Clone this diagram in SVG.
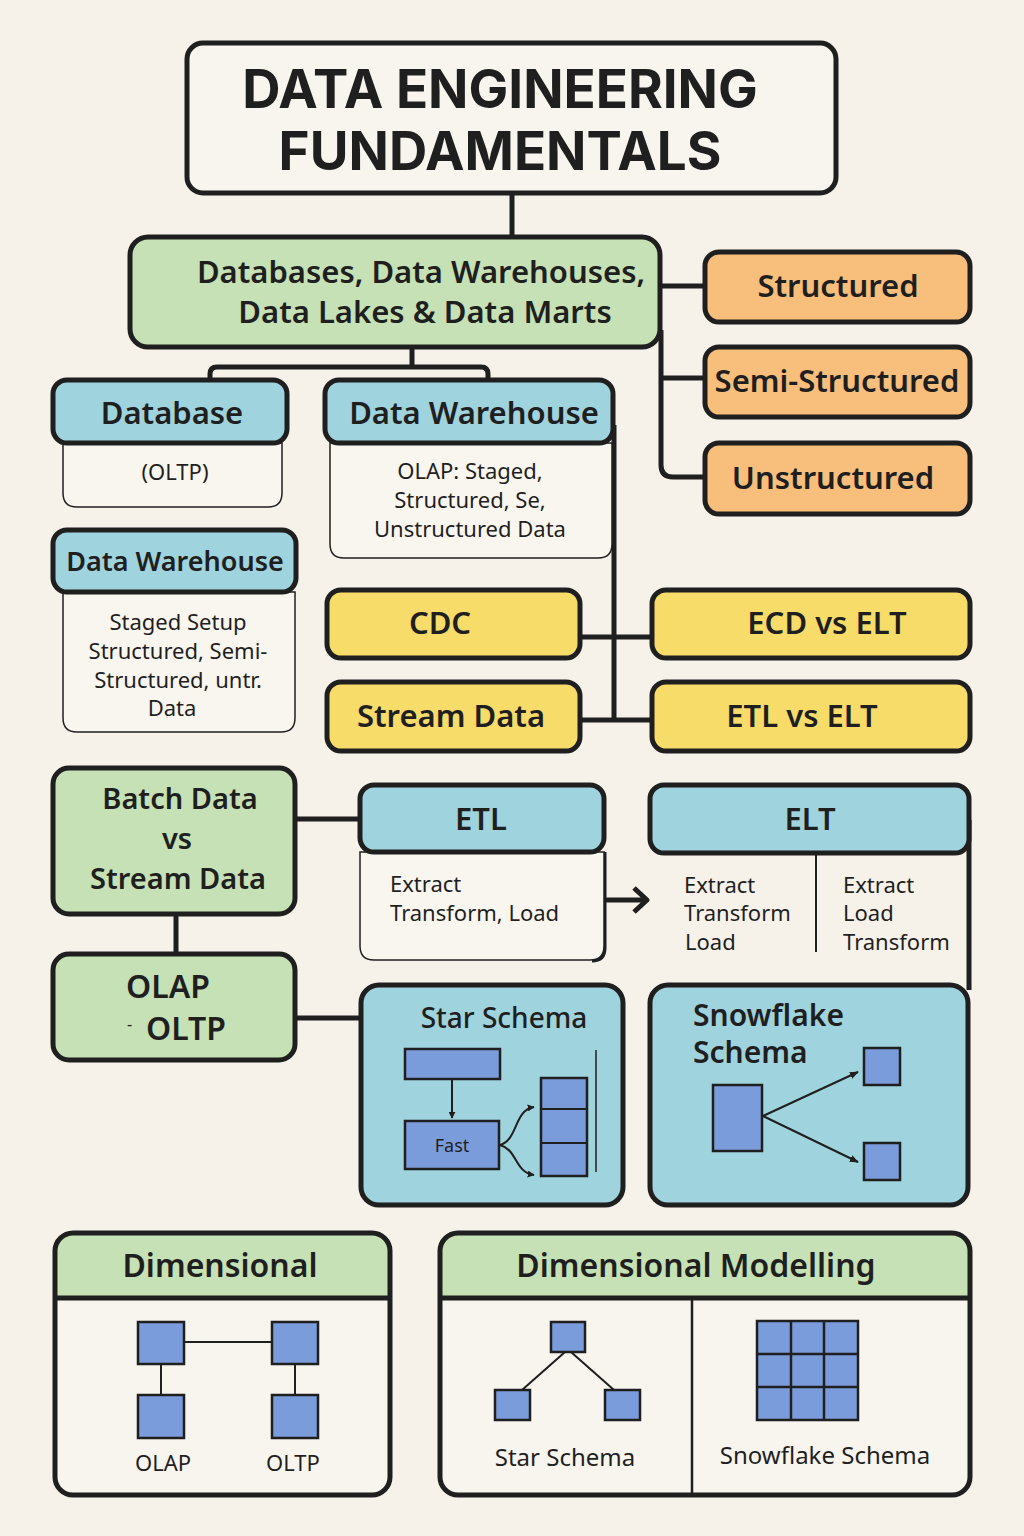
<svg xmlns="http://www.w3.org/2000/svg" width="1024" height="1536" viewBox="0 0 1024 1536">
<defs>
<style>
.bg{fill:#f6f2ea}
.k{stroke:#1f1f1f;stroke-width:5;fill:none;stroke-linejoin:round}
.n{stroke:#1f1f1f;stroke-width:5}
.g{fill:#c6e1b5}
.b{fill:#9fd3dd}
.o{fill:#f8be7b}
.y{fill:#f8dc6a}
.w{fill:#f9f6ef;stroke:#1f1f1f;stroke-width:1.5}
.sq{fill:#7b9cdb;stroke:#1f1f1f;stroke-width:2.5}
.thin{stroke:#1f1f1f;stroke-width:2;fill:none}
text{font-family:"Noto Sans","Open Sans","Liberation Sans",sans-serif;fill:#1f1f1f}
.h{font-size:31px;font-weight:600;text-anchor:middle}
.m{font-size:22px;text-anchor:middle}
.s{font-size:22px}
.t{font-family:Inter,"Liberation Sans",sans-serif;font-size:53px;font-weight:700;text-anchor:middle}
</style>
<marker id="ah" viewBox="0 0 10 10" refX="9" refY="5" markerWidth="7" markerHeight="7" orient="auto" markerUnits="userSpaceOnUse">
<path d="M0,0 L10,5 L0,10 z" fill="#1f1f1f"/>
</marker>
<marker id="ah2" viewBox="0 0 10 10" refX="9" refY="5" markerWidth="9" markerHeight="9" orient="auto" markerUnits="userSpaceOnUse">
<path d="M0,1 L10,5 L0,9 z" fill="#1f1f1f"/>
</marker>
</defs>
<rect class="bg" x="0" y="0" width="1024" height="1536"/>

<g id="connectors">
<path class="k" d="M512,193 V237"/>
<path class="k" d="M412,347 V367 M210,380 V374 Q210,367 217,367 H481 Q488,367 488,374 V380"/>
<path class="k" d="M660,286 H705 M661,330 V465 Q661,477 673,477 H705 M661,378 H705"/>
<path class="k" d="M614,425 V720 M580,637 H652 M580,720 H652"/>
<path class="k" d="M295,819 H360 M176,914 V954 M295,1018 H361"/>
<path class="k" d="M604,852 V948 Q604,960 592,960 M604,900 H646 M634,888 L647,900 L634,912"/>
<path class="k" d="M969,820 V990"/>
</g>

<g id="title">
<rect class="n" x="187" y="43" width="649" height="150" rx="16" fill="#f8f5ee"/>
<text class="t" x="500" y="108">DATA ENGINEERING</text>
<text class="t" x="500" y="170">FUNDAMENTALS</text>
</g>

<g id="storage">
<rect class="n g" x="130" y="237" width="530" height="110" rx="18"/>
<text class="h" x="421" y="283">Databases, Data Warehouses,</text>
<text class="h" x="425" y="323">Data Lakes &amp; Data Marts</text>
</g>

<g id="structured">
<rect class="n o" x="705" y="252" width="265" height="70" rx="14"/>
<text class="h" x="838" y="297">Structured</text>
</g>
<g id="semi-structured">
<rect class="n o" x="705" y="347" width="265" height="70" rx="14"/>
<text class="h" x="837" y="392">Semi-Structured</text>
</g>
<g id="unstructured">
<rect class="n o" x="705" y="443" width="265" height="71" rx="14"/>
<text class="h" x="833" y="489">Unstructured</text>
</g>

<g id="database">
<path class="w" d="M63,443 H282 V493 Q282,507 268,507 H77 Q63,507 63,493 Z"/>
<rect class="n b" x="53" y="380" width="234" height="63" rx="14"/>
<text class="h" x="172" y="424">Database</text>
<text class="m" x="175" y="480">(OLTP)</text>
</g>

<g id="data-warehouse">
<path class="w" d="M330,443 H612 V544 Q612,558 598,558 H344 Q330,558 330,544 Z"/>
<rect class="n b" x="325" y="380" width="288" height="63" rx="14"/>
<text class="h" x="474" y="424">Data Warehouse</text>
<text class="m" x="470" y="479">OLAP: Staged,</text>
<text class="m" x="470" y="508">Structured, Se,</text>
<text class="m" x="470" y="537">Unstructured Data</text>
</g>

<g id="data-warehouse-2">
<path class="w" d="M63,592 H295 V718 Q295,732 281,732 H77 Q63,732 63,718 Z"/>
<rect class="n b" x="53" y="530" width="243" height="62" rx="14"/>
<text class="h" x="175" y="571" style="font-size:27px">Data Warehouse</text>
<text class="m" x="178" y="630">Staged Setup</text>
<text class="m" x="178" y="659">Structured, Semi-</text>
<text class="m" x="178" y="688">Structured, untr.</text>
<text class="m" x="172" y="716">Data</text>
</g>

<g id="cdc">
<rect class="n y" x="327" y="590" width="253" height="68" rx="14"/>
<text class="h" x="440" y="634">CDC</text>
</g>
<g id="stream-data">
<rect class="n y" x="327" y="682" width="253" height="69" rx="14"/>
<text class="h" x="451" y="727">Stream Data</text>
</g>
<g id="ecd-vs-elt">
<rect class="n y" x="652" y="590" width="318" height="68" rx="14"/>
<text class="h" x="827" y="634">ECD vs ELT</text>
</g>
<g id="etl-vs-elt">
<rect class="n y" x="652" y="682" width="318" height="69" rx="14"/>
<text class="h" x="802" y="727">ETL vs ELT</text>
</g>

<g id="batch-vs-stream">
<rect class="n g" x="53" y="768" width="242" height="146" rx="16"/>
<text class="h" x="180" y="809" style="font-size:29px">Batch Data</text>
<text class="h" x="177" y="849" style="font-size:29px">vs</text>
<text class="h" x="178" y="889" style="font-size:29px">Stream Data</text>
</g>

<g id="olap-oltp">
<rect class="n g" x="53" y="954" width="242" height="106" rx="16"/>
<text class="h" x="168" y="998" style="font-size:32px">OLAP</text>
<text x="127" y="1030" style="font-size:16px">-</text>
<text class="h" x="186" y="1040" style="font-size:32px">OLTP</text>
</g>

<g id="etl">
<path class="w" d="M360,852 H604 V946 Q604,960 590,960 H374 Q360,960 360,946 Z"/>
<rect class="n b" x="360" y="785" width="244" height="67" rx="14"/>
<text class="h" x="481" y="830">ETL</text>
<text class="s" x="390" y="892">Extract</text>
<text class="s" x="390" y="921">Transform, Load</text>
</g>

<g id="elt">
<rect class="n b" x="650" y="785" width="319" height="68" rx="14"/>
<text class="h" x="810" y="830">ELT</text>
<path class="thin" d="M816,853 V952"/>
<text class="s" x="684" y="893">Extract</text>
<text class="s" x="684" y="921">Transform</text>
<text class="s" x="685" y="950">Load</text>
<text class="s" x="843" y="893">Extract</text>
<text class="s" x="843" y="921">Load</text>
<text class="s" x="843" y="950">Transform</text>
</g>

<g id="star-schema">
<rect class="n b" x="361" y="985" width="262" height="220" rx="18"/>
<text x="504" y="1028" style="font-size:28px;text-anchor:middle;font-weight:500">Star Schema</text>
<rect class="sq" x="405" y="1049" width="95" height="30"/>
<path class="thin" d="M452,1079 V1118" marker-end="url(#ah)"/>
<rect class="sq" x="405" y="1121" width="94" height="48"/>
<text x="452" y="1152" style="font-size:18px;text-anchor:middle">Fast</text>
<rect class="sq" x="541" y="1078" width="46" height="98"/>
<path class="thin" d="M541,1109 H587 M541,1143 H587"/>
<path class="thin" d="M500,1145 C518,1140 514,1110 534,1107" marker-end="url(#ah)"/>
<path class="thin" d="M500,1145 C518,1150 514,1172 534,1175" marker-end="url(#ah)"/>
<path d="M596,1050 V1172" stroke="#1f1f1f" stroke-width="1.5"/>
</g>

<g id="snowflake-schema">
<rect class="n b" x="650" y="985" width="318" height="220" rx="18"/>
<text x="693" y="1026" style="font-size:30px;font-weight:600">Snowflake</text>
<text x="693" y="1063" style="font-size:30px;font-weight:600">Schema</text>
<rect class="sq" x="713" y="1085" width="49" height="66"/>
<rect class="sq" x="864" y="1048" width="36" height="37"/>
<rect class="sq" x="864" y="1143" width="36" height="37"/>
<path class="thin" d="M763,1116 L858,1072" marker-end="url(#ah2)"/>
<path class="thin" d="M763,1116 L858,1162" marker-end="url(#ah2)"/>
</g>

<g id="dimensional">
<rect x="55" y="1233" width="335" height="262" rx="18" fill="#f8f5ee"/>
<path class="g" d="M55,1298 V1251 Q55,1233 73,1233 H372 Q390,1233 390,1251 V1298 Z"/>
<rect class="k" x="55" y="1233" width="335" height="262" rx="18"/>
<path class="k" d="M55,1298 H390"/>
<text class="h" x="220" y="1277" style="font-size:32px">Dimensional</text>
<path class="thin" d="M184,1342 H272 M161,1364 V1395 M295,1364 V1395"/>
<rect class="sq" x="138" y="1322" width="46" height="42"/>
<rect class="sq" x="272" y="1322" width="46" height="42"/>
<rect class="sq" x="138" y="1395" width="46" height="43"/>
<rect class="sq" x="272" y="1395" width="46" height="43"/>
<text class="m" x="163" y="1471">OLAP</text>
<text class="m" x="293" y="1471">OLTP</text>
</g>

<g id="dimensional-modelling">
<rect x="440" y="1233" width="530" height="262" rx="18" fill="#f8f5ee"/>
<path class="g" d="M440,1298 V1251 Q440,1233 458,1233 H952 Q970,1233 970,1251 V1298 Z"/>
<rect class="k" x="440" y="1233" width="530" height="262" rx="18"/>
<path class="k" d="M440,1298 H970"/>
<path d="M692,1298 V1495" stroke="#1f1f1f" stroke-width="2.5"/>
<text class="h" x="696" y="1277" style="font-size:32px">Dimensional Modelling</text>
<path class="thin" d="M565,1352 L522,1390 M571,1352 L614,1390"/>
<rect class="sq" x="551" y="1322" width="34" height="30"/>
<rect class="sq" x="495" y="1390" width="35" height="30"/>
<rect class="sq" x="605" y="1390" width="35" height="30"/>
<text x="565" y="1466" style="font-size:24px;text-anchor:middle">Star Schema</text>
<rect class="sq" x="757" y="1321" width="101" height="99"/>
<path d="M791,1321 V1420 M824,1321 V1420 M757,1354 H858 M757,1387 H858" stroke="#1f1f1f" stroke-width="2.5"/>
<text x="825" y="1464" style="font-size:24px;text-anchor:middle">Snowflake Schema</text>
</g>
</svg>
